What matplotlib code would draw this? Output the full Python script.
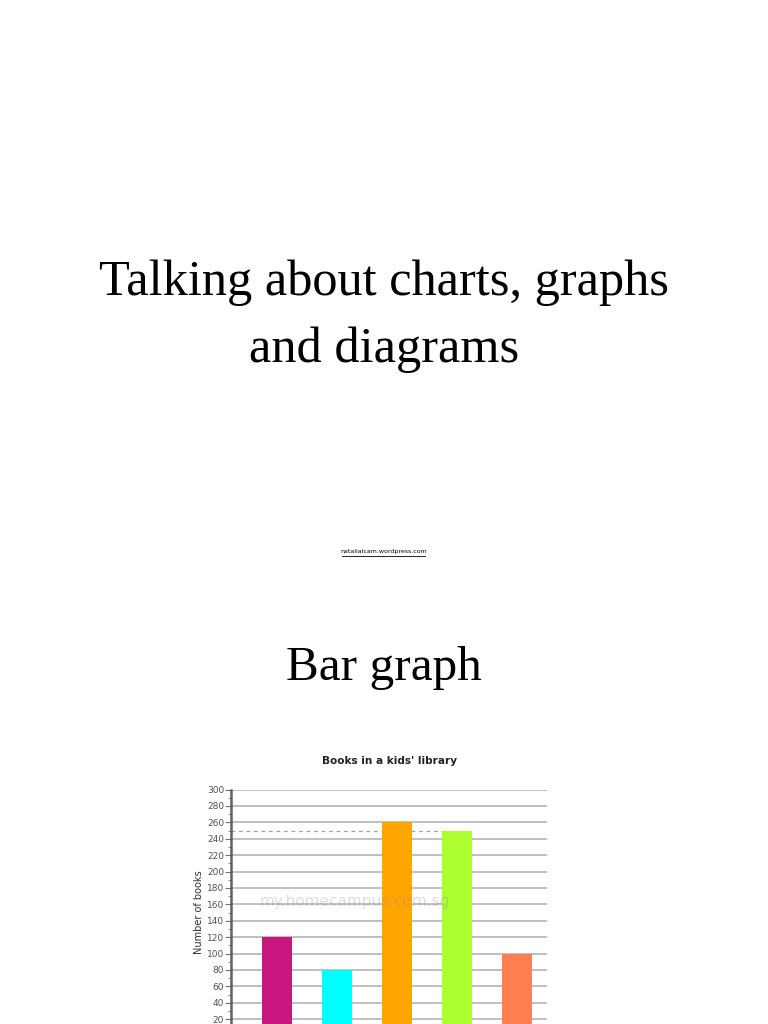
import numpy as np
import matplotlib.pyplot as plt

# data of the bar chart
categories = ['A', 'B', 'C', 'D', 'E']
books = [120, 80, 260, 250, 100]
bar_colors = ['#c8177f', '#00ffff', '#ffa500', '#adff2f', '#ff7f50']
y_ticks = list(range(20, 301, 20))
ref_value = 250

W, H = 768, 1024
fig = plt.figure(figsize=(W / 100, H / 100), dpi=100)

# slide texts
fig.text(0.5, 1 - 283 / H, 'Talking about charts, graphs', ha='center', va='center',
         fontsize=36.3, family='Liberation Serif', color='black')
fig.text(0.5, 1 - 350 / H, 'and diagrams', ha='center', va='center',
         fontsize=36.3, family='Liberation Serif', color='black')
fig.text(0.5, 1 - 551 / H, 'natalialcam.wordpress.com', ha='center', va='center',
         fontsize=4.5, color='black')
fig.add_artist(plt.Line2D([342 / W, 425 / W], [1 - 556 / H, 1 - 556 / H],
                          color='black', lw=0.6))
fig.text(0.5, 1 - 668 / H, 'Bar graph', ha='center', va='center',
         fontsize=35.5, family='Liberation Serif', color='black')

# chart
ax = fig.add_axes([231 / W, -11.5 / H, 316 / W, 246 / H])
x = np.arange(len(categories))
ax.set_axisbelow(True)
ax.grid(axis='y', color='#b4b4b4', lw=1.2)
ax.bar(x, books, width=0.5, color=bar_colors, zorder=3)
ax.plot([-0.77, x[3] - 0.25], [ref_value, ref_value], ls=(0, (3, 3)),
        color='#a0a0a0', lw=0.9, zorder=2)
# faint watermark over the plot
ax.text(1.3, 163, 'my.homecampus.com.sg', ha='center', va='center',
        fontsize=11, color='#909090', alpha=0.3, zorder=4)

ax.set_xlim(-0.767, 4.5)
ax.set_ylim(0, 300)
ax.set_yticks(y_ticks)
ax.set_yticks(range(10, 301, 20), minor=True)
ax.set_xticks([])
ax.tick_params(axis='y', which='major', labelsize=6.5, labelcolor='#505050',
               color='#707070', length=4, width=0.8, pad=1)
ax.tick_params(axis='y', which='minor', color='#707070', length=2, width=0.6)
for s in ['top', 'right', 'bottom']:
    ax.spines[s].set_visible(False)
ax.spines['left'].set_color('#606060')
ax.spines['left'].set_linewidth(1.8)

ax.set_ylabel('Number of books', fontsize=7, color='#303030', labelpad=2)
fig.text(390 / W, 1 - 761 / H, "Books in a kids' library", ha='center', va='center',
         fontsize=7.6, fontweight='bold', color='#222222')

fig.savefig('out.png', dpi=100, facecolor='white')
